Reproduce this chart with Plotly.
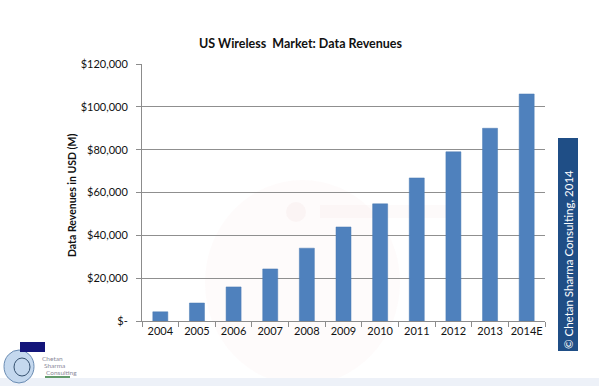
import plotly.graph_objects as go

years = ["2004", "2005", "2006", "2007", "2008", "2009", "2010", "2011", "2012", "2013", "2014E"]
revenues = [4300, 8400, 15900, 24300, 34000, 43900, 54700, 66800, 79000, 90000, 106000]
tick_vals = [0, 20000, 40000, 60000, 80000, 100000, 120000]
tick_text = ["$-", "$20,000", "$40,000", "$60,000", "$80,000", "$100,000", "$120,000"]

W, H = 599, 386
L, R, T, B = 142, 54, 64, 65
PW, PH = W - L - R, H - T - B

def px(x):
    return (x - L) / PW

def py(y):
    return (H - B - y) / PH

FONT = "Lato"
fig = go.Figure(go.Bar(
    x=years, y=revenues,
    marker=dict(color="#4f81bd", line=dict(color="#4a7ab3", width=0.5)),
    width=0.41,
))

shapes = [
    # faint watermark
    dict(type="circle", xref="paper", yref="paper", x0=px(205), x1=px(400), y0=py(385), y1=py(180),
         fillcolor="rgba(230,190,190,0.06)", line=dict(width=0), layer="below"),
    dict(type="circle", xref="paper", yref="paper", x0=px(286), x1=px(306), y0=py(222), y1=py(202),
         fillcolor="rgba(230,190,190,0.10)", line=dict(width=0), layer="below"),
    dict(type="rect", xref="paper", yref="paper", x0=px(320), x1=px(450), y0=py(218), y1=py(205),
         fillcolor="rgba(230,190,190,0.07)", line=dict(width=0), layer="below"),
    # copyright box
    dict(type="rect", xref="paper", yref="paper", x0=px(558), x1=px(578), y0=py(351), y1=py(138),
         fillcolor="#1f4e86", line=dict(width=0)),
    # bottom band
    dict(type="rect", xref="paper", yref="paper", x0=px(0), x1=px(599), y0=py(386), y1=py(378),
         fillcolor="#edf1f8", line=dict(width=0)),
    # logo
    dict(type="circle", xref="paper", yref="paper", x0=px(4), x1=px(34), y0=py(383), y1=py(350),
         fillcolor="#c4d8ee", line=dict(color="#6a8cb3", width=1)),
    dict(type="circle", xref="paper", yref="paper", x0=px(14), x1=px(30), y0=py(376), y1=py(358),
         fillcolor="rgba(0,0,0,0)", line=dict(color="#34506e", width=1)),
    dict(type="rect", xref="paper", yref="paper", x0=px(20), x1=px(45), y0=py(352), y1=py(342),
         fillcolor="#13157a", line=dict(width=0)),
    dict(type="line", xref="paper", yref="paper", x0=px(45), x1=px(70), y0=py(377), y1=py(377),
         line=dict(color="#2f7a3a", width=1.5)),
]

annotations = [
    dict(text="<b>US Wireless  Market: Data Revenues</b>", xref="paper", yref="paper",
         x=px(300), y=py(43), showarrow=False, font=dict(family=FONT, size=12.5, color="#111"),
         xanchor="center", yanchor="middle"),
    dict(text="<b>Data Revenues in USD (M)</b>", xref="paper", yref="paper",
         x=px(72), y=py(196), textangle=-90, showarrow=False,
         font=dict(family=FONT, size=10.5, color="#111"), xanchor="center", yanchor="middle"),
    dict(text="© Chetan Sharma Consulting, 2014", xref="paper", yref="paper",
         x=px(568), y=py(260), textangle=-90, showarrow=False,
         font=dict(family=FONT, size=11.5, color="white"), xanchor="center", yanchor="middle"),
    dict(text="Chetan", xref="paper", yref="paper", x=px(40), y=py(358), showarrow=False,
         font=dict(family=FONT, size=6.5, color="#8a8a9a"), xanchor="left", yanchor="middle"),
    dict(text="Sharma", xref="paper", yref="paper", x=px(42), y=py(365), showarrow=False,
         font=dict(family=FONT, size=6.5, color="#8a8a9a"), xanchor="left", yanchor="middle"),
    dict(text="Consulting", xref="paper", yref="paper", x=px(44), y=py(372), showarrow=False,
         font=dict(family=FONT, size=6.5, color="#8a8a9a"), xanchor="left", yanchor="middle"),
]

fig.update_layout(
    width=W, height=H,
    margin=dict(l=L, r=R, t=T, b=B),
    paper_bgcolor="white", plot_bgcolor="rgba(0,0,0,0)",
    showlegend=False,
    font=dict(family=FONT, size=11, color="#111"),
    shapes=shapes, annotations=annotations,
    xaxis=dict(
        type="category", showline=True, linecolor="#8c8c8c", linewidth=1,
        ticks="outside", tickson="boundaries", ticklen=5, tickcolor="#8c8c8c",
        showgrid=False, tickfont=dict(family=FONT, size=11, color="#111"),
        tickangle=0, fixedrange=True,
    ),
    yaxis=dict(
        range=[0, 120000], tickvals=tick_vals, ticktext=tick_text,
        showline=True, linecolor="#8c8c8c", linewidth=1,
        ticks="outside", ticklen=5, tickcolor="#8c8c8c",
        showgrid=True, gridcolor="#8f8f8f", gridwidth=1, zeroline=False,
        tickfont=dict(family=FONT, size=11, color="#111"),
        ticklabelstandoff=6, fixedrange=True,
    ),
)

fig.write_html("out.html", config={"displayModeBar": False},
               post_script="document.body.style.margin='0';document.body.style.overflow='hidden';")
